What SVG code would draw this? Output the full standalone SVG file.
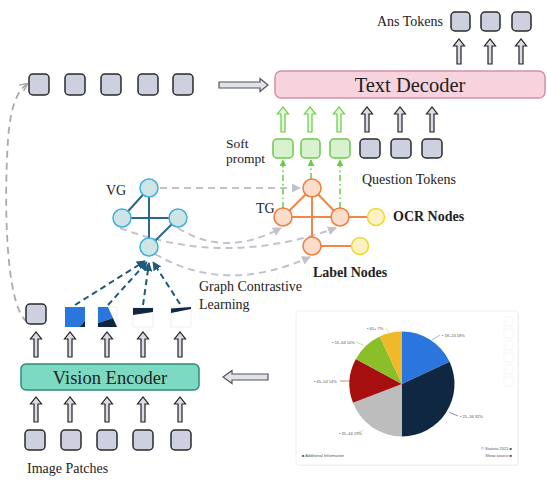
<svg xmlns="http://www.w3.org/2000/svg" width="547" height="488" viewBox="0 0 547 488">
<style>
.tok{fill:#cdd1df;stroke:#2a2a2a;stroke-width:1.5}
.gtok{fill:#d8f2cf;stroke:#6cc94a;stroke-width:1.5}
.ua{fill:#d9dce5;stroke:#222;stroke-width:1.2}
.ga{fill:#e8f8df;stroke:#66cc44;stroke-width:1.2}
.t{font-family:"Liberation Serif","Times New Roman",serif;fill:#222}
.vn{fill:#cfe5e5;stroke:#3db0e0;stroke-width:1.5}
.ve{stroke:#2a6888;stroke-width:2;fill:none}
.tn{fill:#fcdccb;stroke:#f07e3c;stroke-width:1.5}
.te{stroke:#f08648;stroke-width:2;fill:none}
.yn{fill:#fcf0c4;stroke:#e6dc2a;stroke-width:1.5}
.gd{stroke:#c2c2cc;stroke-width:2;stroke-dasharray:7 5;fill:none}
.bd{stroke:#1f5a7a;stroke-width:2;stroke-dasharray:6 4;fill:none}
.dd{stroke:#66cc44;stroke-width:1.5;stroke-dasharray:6 3 1.5 3;fill:none}
.pl{font-family:"Liberation Sans",Arial,sans-serif;font-size:4px;fill:#555}
</style>
<defs>
<path id="ua" d="M-2,25 L-2,7 L-5.5,7 L0,0 L5.5,7 L2,7 L2,25 Z"/>
<marker id="mg" viewBox="0 0 10 10" refX="9" refY="5" markerWidth="9" markerHeight="9" markerUnits="userSpaceOnUse" orient="auto"><path d="M0,0 L10,5 L0,10 Z" fill="#c2c2cc"/></marker>
<marker id="mg2" viewBox="0 0 10 10" refX="9" refY="5" markerWidth="8" markerHeight="8" markerUnits="userSpaceOnUse" orient="auto"><path d="M0,0 L10,5 L0,10" fill="none" stroke="#aaaaaa" stroke-width="2"/></marker>
<marker id="mb" viewBox="0 0 10 10" refX="9" refY="5" markerWidth="9" markerHeight="9" markerUnits="userSpaceOnUse" orient="auto"><path d="M0,0 L10,5 L0,10 Z" fill="#1f5a7a"/></marker>
<marker id="mgr" viewBox="0 0 10 10" refX="9" refY="5" markerWidth="7" markerHeight="7" markerUnits="userSpaceOnUse" orient="auto"><path d="M0,0 L10,5 L0,10 Z" fill="#66cc44"/></marker>
</defs>

<g id="connectors">
<path class="gd" d="M160,188 L300,188" marker-end="url(#mg)"/>
<path class="gd" d="M120,228 Q225,268 336,228" marker-end="url(#mg)"/>
<path class="gd" d="M178,228 Q225,258 281,228" marker-end="url(#mg)"/>
<path class="gd" d="M155,254 Q225,295 310,257" marker-end="url(#mg)"/>
<path d="M27,322 C5,305 4,200 8,140 C10,110 16,92 27,84" fill="none" stroke="#aaaaaa" stroke-width="1.8" stroke-dasharray="7 5" marker-end="url(#mg2)"/>
<path class="bd" d="M75,305 L145,261" marker-end="url(#mb)"/>
<path class="bd" d="M108,305 L147,262" marker-end="url(#mb)"/>
<path class="bd" d="M143,305 L149,263" marker-end="url(#mb)"/>
<path class="bd" d="M180,304 L153,262" marker-end="url(#mb)"/>
<path class="dd" d="M283,208 L283,160" marker-end="url(#mgr)"/>
<path class="dd" d="M311,179 L311,160" marker-end="url(#mgr)"/>
<path class="dd" d="M340,208 L340,160" marker-end="url(#mgr)"/>
<path d="M219,82 L260,82 L260,78.5 L268,85 L260,91.5 L260,88 L219,88 Z" fill="#dfe2ea" stroke="#555" stroke-width="1.2"/>
<path d="M268,374 L232,374 L232,370.5 L223,377 L232,383.5 L232,380 L268,380 Z" fill="#dfe2ea" stroke="#555" stroke-width="1.2"/>
</g>

<g id="top-tokens">
<rect class="tok" x="29" y="74" width="20" height="21" rx="4"/>
<rect class="tok" x="65" y="74" width="20" height="21" rx="4"/>
<rect class="tok" x="101" y="74" width="20" height="21" rx="4"/>
<rect class="tok" x="138" y="74" width="20" height="21" rx="4"/>
<rect class="tok" x="173" y="74" width="20" height="21" rx="4"/>
</g>

<g id="text-decoder">
<rect x="275" y="71" width="270" height="27" rx="6" fill="#f7d3de" stroke="#d98fa8" stroke-width="1.5"/>
<text class="t" x="410" y="91.5" font-size="20.5" text-anchor="middle">Text Decoder</text>
</g>

<g id="ans-tokens">
<text class="t" x="443" y="26" font-size="14" text-anchor="end">Ans Tokens</text>
<rect class="tok" x="451" y="12" width="19" height="19" rx="4"/>
<rect class="tok" x="481" y="12" width="19" height="19" rx="4"/>
<rect class="tok" x="512" y="12" width="19" height="19" rx="4"/>
<use href="#ua" class="ua" x="459" y="39"/>
<use href="#ua" class="ua" x="490" y="39"/>
<use href="#ua" class="ua" x="521" y="39"/>
</g>

<g id="soft-prompt">
<text class="t" x="226" y="148" font-size="13.5">Soft</text>
<text class="t" x="226" y="163" font-size="13.5">prompt</text>
<rect class="gtok" x="273" y="139" width="20" height="19" rx="4"/>
<rect class="gtok" x="301" y="139" width="19" height="19" rx="4"/>
<rect class="gtok" x="330" y="139" width="20" height="19" rx="4"/>
<use href="#ua" class="ga" x="283" y="107"/>
<use href="#ua" class="ga" x="310" y="107"/>
<use href="#ua" class="ga" x="339" y="107"/>
</g>

<g id="question-tokens">
<rect class="tok" x="360" y="139" width="20" height="19" rx="4"/>
<rect class="tok" x="391" y="139" width="20" height="19" rx="4"/>
<rect class="tok" x="422" y="139" width="20" height="19" rx="4"/>
<use href="#ua" class="ua" x="367" y="107"/>
<use href="#ua" class="ua" x="400" y="107"/>
<use href="#ua" class="ua" x="432" y="107"/>
<text class="t" x="362" y="184" font-size="14">Question Tokens</text>
</g>

<g id="vg">
<text class="t" x="106" y="195" font-size="14">VG</text>
<path class="ve" d="M149,188 L122,218 M149,188 L149,247 M122,218 L178,218 M178,218 L149,247"/>
<circle class="vn" cx="149" cy="188" r="9"/>
<circle class="vn" cx="122" cy="218" r="9"/>
<circle class="vn" cx="178" cy="218" r="9"/>
<circle class="vn" cx="149" cy="247" r="9"/>
</g>

<g id="tg">
<text class="t" x="256" y="213" font-size="14">TG</text>
<path class="te" d="M312,188 L283,217 M312,188 L340,217 M283,217 L376,217 M312,188 L312,246 L360,246"/>
<circle class="tn" cx="312" cy="188" r="9"/>
<circle class="tn" cx="283" cy="217" r="9"/>
<circle class="tn" cx="340" cy="217" r="9"/>
<circle class="tn" cx="312" cy="246" r="9"/>
</g>

<g id="ocr-nodes">
<circle class="yn" cx="376" cy="217" r="8.5"/>
<text class="t" x="393" y="221" font-size="14" font-weight="bold">OCR Nodes</text>
</g>

<g id="label-nodes">
<circle class="yn" cx="360" cy="246" r="8.5"/>
<text class="t" x="313" y="277" font-size="14" font-weight="bold">Label Nodes</text>
</g>

<g id="gcl-label">
<text class="t" x="199" y="291" font-size="14">Graph Contrastive</text>
<text class="t" x="199" y="309" font-size="14">Learning</text>
</g>

<g id="visual-tokens">
<rect class="tok" x="26" y="304" width="20" height="20" rx="4"/>
<rect x="65" y="307" width="20" height="20" fill="#2a76dd"/>
<path d="M80,327 L85,321 L85,327 Z" fill="#0f2740"/>
<rect x="98" y="307" width="19" height="20" fill="#ffffff" stroke="#e4e4e4" stroke-width="0.6"/>
<path d="M98,307 L108,307 L113,318 L98,323 Z" fill="#2a76dd"/>
<path d="M98,323 L113,318 L117,327 L98,327 Z" fill="#0f2740"/>
<rect x="133" y="307" width="20" height="20" fill="#ffffff" stroke="#e4e4e4" stroke-width="0.6"/>
<path d="M133,308 L153,308 L153,312 L133,315 Z" fill="#0f2740"/>
<rect x="171" y="307" width="20" height="20" fill="#ffffff" stroke="#e4e4e4" stroke-width="0.6"/>
<path d="M171,308.5 L191,307 L191,309 L171,313 Z" fill="#0f2740"/>
<use href="#ua" class="ua" x="36" y="332"/>
<use href="#ua" class="ua" x="70" y="332"/>
<use href="#ua" class="ua" x="107" y="332"/>
<use href="#ua" class="ua" x="143" y="332"/>
<use href="#ua" class="ua" x="180" y="332"/>
</g>

<g id="vision-encoder">
<rect x="21" y="364" width="178" height="26" rx="5" fill="#7ddac2" stroke="#2e8a7a" stroke-width="1.5"/>
<text class="t" x="110" y="384" font-size="18.5" text-anchor="middle">Vision Encoder</text>
</g>

<g id="image-patches">
<use href="#ua" class="ua" x="36" y="397"/>
<use href="#ua" class="ua" x="70" y="397"/>
<use href="#ua" class="ua" x="107" y="397"/>
<use href="#ua" class="ua" x="143" y="397"/>
<use href="#ua" class="ua" x="180" y="397"/>
<rect class="tok" x="25" y="430" width="20" height="20" rx="4"/>
<rect class="tok" x="61" y="430" width="20" height="20" rx="4"/>
<rect class="tok" x="97" y="430" width="20" height="20" rx="4"/>
<rect class="tok" x="133" y="430" width="20" height="20" rx="4"/>
<rect class="tok" x="171" y="430" width="20" height="20" rx="4"/>
<text class="t" x="27" y="473" font-size="14">Image Patches</text>
</g>

<g id="pie-chart">
<rect x="297" y="312" width="222" height="154" rx="3" fill="#f1f2f5"/>
<rect x="296" y="311" width="222" height="154" rx="3" fill="#ffffff" stroke="#eeeeee" stroke-width="0.8"/>
<path d="M402,384 L402,331.5 A52.5,52.5 0 0 1 449.58,361.81 Z" fill="#2a76dd"/>
<path d="M402,384 L449.58,361.81 A52.5,52.5 0 0 1 402,436.5 Z" fill="#0f2740"/>
<path d="M402,384 L402,436.5 A52.5,52.5 0 0 1 352.99,402.81 Z" fill="#bdbdbd"/>
<path d="M402,384 L352.99,402.81 A52.5,52.5 0 0 1 355.86,358.95 Z" fill="#a50f0f"/>
<path d="M402,384 L355.86,358.95 A52.5,52.5 0 0 1 379.81,336.42 Z" fill="#8bbf2a"/>
<path d="M402,384 L379.81,336.42 A52.5,52.5 0 0 1 402,331.5 Z" fill="#f0b92a"/>
<g stroke-width="0.5" fill="none">
<path d="M432,340 L440,335" stroke="#2a76dd"/>
<path d="M449,412 L458,416" stroke="#0f2740"/>
<path d="M364,430 L357,433" stroke="#bdbdbd"/>
<path d="M349,381 L340,381" stroke="#a50f0f"/>
<path d="M363,345 L356,342" stroke="#8bbf2a"/>
<path d="M389,333 L386,328" stroke="#f0b92a"/>
</g>
<text class="pl" x="442" y="337">• 18–24 18%</text>
<text class="pl" x="460" y="418">• 25–34 32%</text>
<text class="pl" x="339" y="435">• 35–44 19%</text>
<text class="pl" x="314" y="383">• 45–54 14%</text>
<text class="pl" x="332" y="344">• 55–64 10%</text>
<text class="pl" x="367" y="330">• 65+ 7%</text>
<g fill="#ffffff" stroke="#eeeeee" stroke-width="0.6">
<rect x="504" y="317" width="9" height="9" rx="1.5"/>
<rect x="504" y="329" width="9" height="9" rx="1.5"/>
<rect x="504" y="341" width="9" height="9" rx="1.5"/>
<rect x="504" y="353" width="9" height="9" rx="1.5"/>
<rect x="504" y="365" width="9" height="9" rx="1.5"/>
<rect x="504" y="377" width="9" height="9" rx="1.5"/>
</g>
<text class="pl" x="512" y="450" text-anchor="end" font-size="3.5">© Statista 2021 ■</text>
<text class="pl" x="512" y="457" text-anchor="end" font-size="3.5" fill="#2a76dd">Show source ■</text>
<text class="pl" x="302" y="457" font-size="3.5" fill="#2a76dd">■ Additional Information</text>
</g>
</svg>
